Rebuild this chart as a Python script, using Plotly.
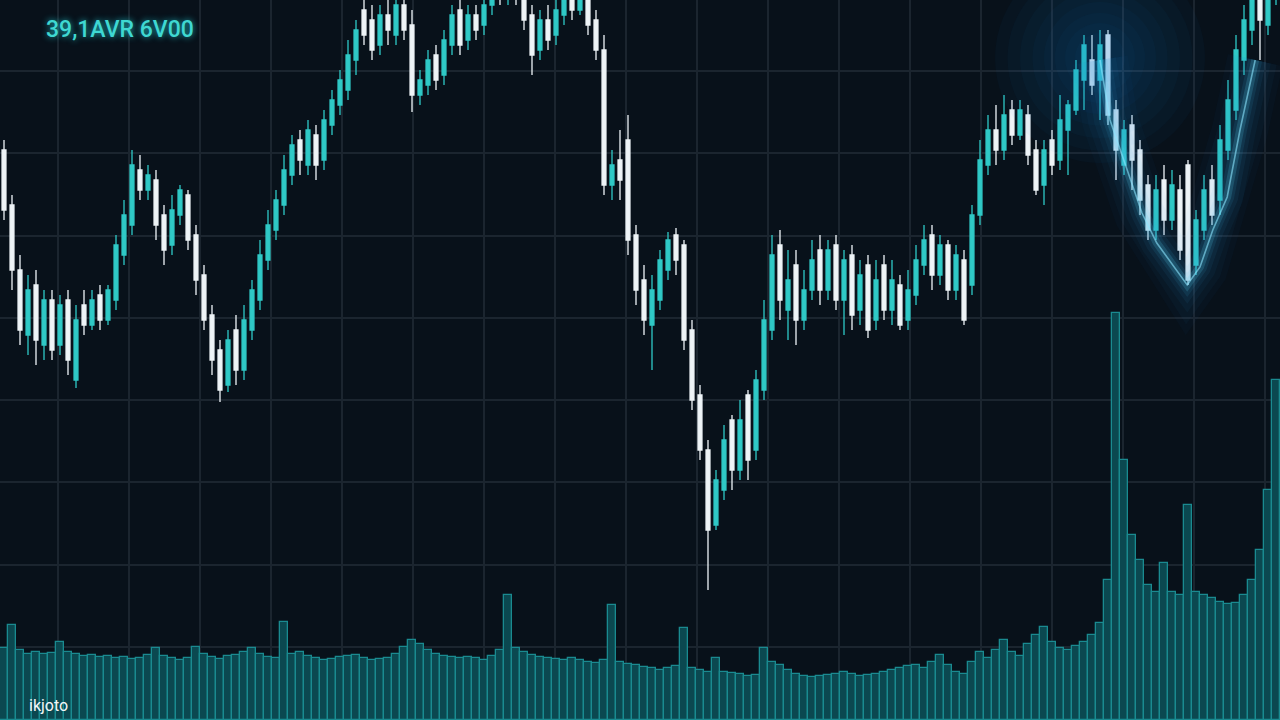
import plotly.graph_objects as go

# ---------------- data ----------------
idx = list(range(160))

open_ = [570,515,450,385,435,375,420,375,420,340,
         415,395,425,400,420,465,495,550,530,540,
         505,475,505,525,485,445,405,370,335,390,
         350,390,420,460,490,515,545,580,555,585,
         560,595,615,630,660,710,700,675,705,685,
         715,695,625,635,665,645,675,710,680,705,
         695,715,730,725,735,725,705,670,700,685,
         705,720,710,720,700,670,535,560,580,485,
         440,395,420,450,485,475,390,325,270,195,
         230,300,250,325,270,330,390,475,410,455,
         400,430,470,430,475,420,465,410,455,400,
         455,410,435,400,425,455,485,445,475,430,
         460,435,505,555,590,570,610,585,605,570,
         535,580,560,590,610,640,660,640,685,610,
         555,595,570,535,490,540,500,530,555,455,
         490,540,520,570,610,660,690,720,695,725]

close = [510,450,390,430,380,420,370,415,360,400,
         395,420,400,430,475,505,555,530,545,495,
         470,510,530,480,440,400,360,330,380,350,
         400,430,465,495,520,550,575,560,590,555,
         600,620,640,665,690,685,670,705,690,715,
         690,625,640,660,640,680,705,675,705,690,
         715,730,725,735,725,700,665,700,680,710,
         720,710,720,695,670,535,555,540,480,430,
         400,430,460,480,460,380,320,270,190,240,
         280,250,300,260,340,400,465,420,440,400,
         430,460,430,470,420,460,405,445,390,440,
         410,440,395,430,460,480,445,475,430,465,
         400,505,560,590,570,605,585,610,565,530,
         570,555,600,615,650,675,635,675,605,570,
         590,560,520,490,530,500,535,470,440,500,
         530,505,580,620,670,700,720,700,730,740]

high = [580,525,465,445,450,430,430,425,430,415,
        430,430,435,435,485,520,570,565,555,550,
        515,525,535,530,495,455,415,380,390,405,
        415,440,480,510,530,565,585,590,600,595,
        610,630,650,680,700,720,715,715,725,730,
        735,710,650,670,675,690,715,720,715,715,
        730,740,745,750,750,740,715,710,715,720,
        730,730,730,730,710,685,570,590,605,495,
        455,445,470,488,492,480,400,335,280,250,
        295,305,320,330,350,420,485,490,470,470,
        450,480,485,480,485,470,475,460,465,460,
        465,460,445,450,475,495,495,485,480,475,
        470,515,580,605,615,625,620,620,615,580,
        580,590,625,620,660,685,685,690,690,620,
        600,605,580,545,545,555,550,545,560,510,
        545,555,595,640,685,715,730,735,740,750]

low = [500,430,375,365,355,360,360,365,345,332,
       385,390,390,395,410,455,485,520,520,480,
       455,465,495,470,425,390,345,318,328,335,
       340,380,410,450,480,505,535,545,545,540,
       550,585,605,620,645,675,660,665,675,675,
       680,608,615,625,630,635,665,665,670,680,
       685,705,715,715,715,690,645,660,670,675,
       695,700,705,685,660,525,520,520,465,415,
       385,350,410,440,445,370,310,260,130,190,
       220,230,240,240,260,320,380,400,380,375,
       390,420,415,420,410,385,390,395,382,390,
       400,395,390,390,415,445,430,435,420,420,
       395,425,495,545,555,560,575,580,555,525,
       515,545,550,545,605,610,625,600,595,540,
       545,530,505,480,480,485,490,460,435,445,
       480,495,505,560,600,645,675,660,685,715]

volume = [72,95,70,66,68,66,67,78,68,66,
          64,65,63,64,62,63,61,62,65,72,
          64,62,60,62,73,66,63,61,64,65,
          68,72,66,63,62,98,66,68,64,62,
          60,61,63,64,65,62,60,61,62,66,
          73,80,76,70,66,64,63,62,63,62,
          60,64,70,125,72,68,65,63,62,61,
          60,62,60,58,57,60,115,58,56,55,
          53,52,50,52,54,92,52,50,48,62,
          48,47,46,44,45,72,58,55,50,46,
          44,43,44,45,46,48,46,44,45,46,
          48,50,52,54,55,52,58,65,55,48,
          46,58,68,62,70,80,68,64,76,85,
          93,78,72,70,74,78,85,97,140,407,
          260,185,160,135,128,157,128,125,215,128,
          125,122,118,116,117,125,140,170,230,340]

glow_x = [137, 138.25, 142.25, 144.1, 147.9, 149.5, 151.1, 152.9, 154.5, 156.4]
glow_y = [660, 600, 507, 477, 435, 453, 490, 523, 590, 660]

glow_sizes = [210, 185, 160, 135, 112, 90, 70, 50]

title_text = "39,1AVR 6V00"
footer_text = "ikjoto"

# ---------------- figure ----------------
BG = "#08111a"
GRID = "#1b252f"

fig = go.Figure()

fig.add_trace(go.Bar(
    x=idx, y=volume, yaxis="y", width=1.0,
    marker=dict(color="#0b4850", line=dict(color="#1a8a90", width=1.3)),
    hoverinfo="skip", showlegend=False))

# soft radial glow around the local top on the right (many faint layers)
for size in glow_sizes:
    fig.add_trace(go.Scatter(
        x=[137], y=[662], yaxis="y2", mode="markers",
        marker=dict(size=size, color="rgba(40,150,215,0.035)", line=dict(width=0)),
        hoverinfo="skip", showlegend=False))

for w, col in [(56, "rgba(40,140,215,0.03)"), (44, "rgba(40,145,218,0.04)"),
               (32, "rgba(40,155,222,0.05)"), (22, "rgba(50,170,230,0.07)"),
               (14, "rgba(60,190,238,0.10)"), (8, "rgba(90,210,245,0.18)")]:
    fig.add_trace(go.Scatter(
        x=glow_x, y=glow_y, yaxis="y2", mode="lines",
        line=dict(color=col, width=w), hoverinfo="skip", showlegend=False))

fig.add_trace(go.Candlestick(
    x=idx, open=open_, high=high, low=low, close=close, yaxis="y2",
    increasing=dict(line=dict(color="#2fc9c6", width=1.3), fillcolor="#2fc9c6"),
    decreasing=dict(line=dict(color="#eef4f7", width=1.3), fillcolor="#eef4f7"),
    whiskerwidth=0, showlegend=False))

fig.add_trace(go.Scatter(
    x=glow_x, y=glow_y, yaxis="y2", mode="lines",
    line=dict(color="rgba(140,230,255,0.6)", width=1.6),
    hoverinfo="skip", showlegend=False))

fig.update_layout(
    width=1280, height=720,
    margin=dict(l=0, r=0, t=0, b=0),
    paper_bgcolor=BG, plot_bgcolor=BG,
    showlegend=False,
    bargap=0,
    xaxis=dict(range=[-0.5, 159.5], showgrid=True, gridcolor=GRID, gridwidth=1.5,
               tickmode="linear", tick0=6.75, dtick=8.875,
               showticklabels=False, zeroline=False, showline=False,
               rangeslider=dict(visible=False)),
    yaxis=dict(range=[0, 720], showgrid=True, gridcolor=GRID, gridwidth=1.5,
               tickmode="linear", tick0=73, dtick=82.3,
               showticklabels=False, zeroline=False, showline=False),
    yaxis2=dict(range=[0, 720], overlaying="y", showgrid=False,
                showticklabels=False, zeroline=False, showline=False),
    annotations=[
        dict(text=title_text, xref="paper", yref="paper", x=44/1280, y=1-30/720,
             xanchor="left", yanchor="middle", showarrow=False,
             font=dict(family="Roboto, sans-serif", weight=500,
                       size=23, color="#3fd8d2", shadow="0px 0px 6px #1fb8c0")),
        dict(text=footer_text, xref="paper", yref="paper", x=27/1280, y=(720-705)/720,
             xanchor="left", yanchor="middle", showarrow=False,
             font=dict(family="Roboto, sans-serif", size=16, color="#f2f6f8")),
    ],
)

fig.write_html("out.html", config={"displayModeBar": False},
               post_script="document.body.style.margin='0';document.body.style.background='#08111a';")
